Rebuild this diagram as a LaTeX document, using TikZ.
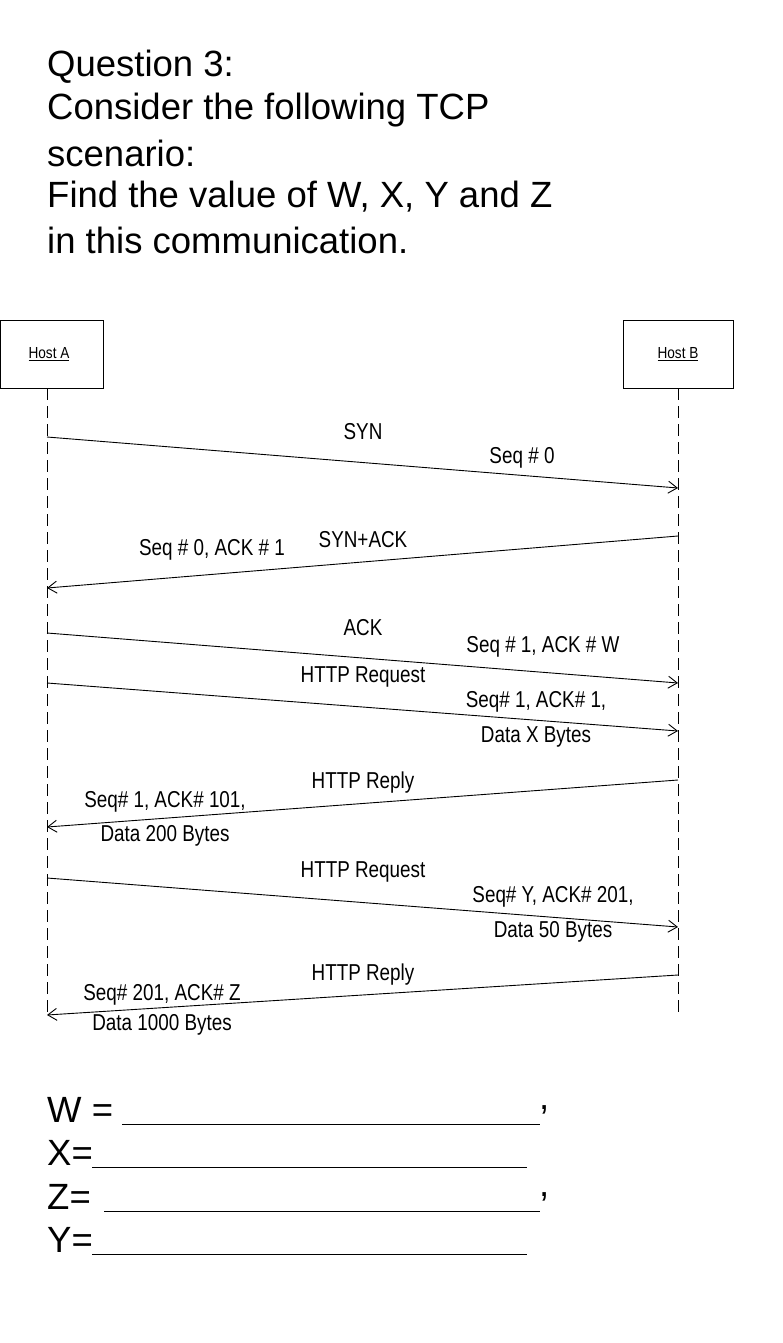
\documentclass[tikz,border=0pt]{standalone}
\usepackage{fontspec}
\setmainfont{Liberation Sans}
\usetikzlibrary{arrows.meta}
\begin{document}
\begin{tikzpicture}[x=1pt,y=-1pt,
  big/.style={anchor=west,inner sep=0,font=\fontsize{36.5}{40}\selectfont},
  lbl/.style={inner sep=0,font=\fontsize{23}{25}\selectfont,xscale=0.82},
  host/.style={draw,thick,minimum height=68pt,font=\fontsize{16}{18}\selectfont,xscale=0.9},
  msg/.style={line width=0.9pt,-{Straight Barb[length=9pt,width=12pt]}},
  life/.style={line width=0.8pt,dash pattern=on 12pt off 6pt},
  blank/.style={line width=1pt}]
\useasboundingbox (0,0) rectangle (782,1343);
\node[big] (t1) at (47,67) {Question 3:};
\node[big] (t2) at (47,110) {Consider the following TCP};
\node[big] (t3) at (47,153) {scenario:};
\node[big] (t4) at (47,197) {Find the value of W, X, Y and Z};
\node[big] (t5) at (47,240) {in this communication.};
\draw[thick] (0,320) rectangle (103,388);
\draw[thick] (623,320) rectangle (733,388);
\node[inner sep=0,font=\fontsize{16}{18}\selectfont,xscale=0.85] (A) at (49,354) {\underline{Host A}};
\node[inner sep=0,font=\fontsize{16}{18}\selectfont,xscale=0.85] (B) at (678,354) {\underline{Host B}};
\coordinate (As) at (47,388); \coordinate (Bs) at (678,388);
\coordinate (Aend) at (47,1015);
\coordinate (Bend) at (678,1015);
\draw[life] (As) -- (Aend);
\draw[life] (Bs) -- (Bend);
\coordinate (a1) at (47,437); \coordinate (b1) at (678,488);
\coordinate (b2) at (678,536); \coordinate (a2) at (47,588);
\coordinate (a3) at (47,633); \coordinate (b3) at (678,683);
\coordinate (a4) at (47,683); \coordinate (b4) at (678,731);
\coordinate (b5) at (678,780); \coordinate (a5) at (47,827);
\coordinate (a6) at (47,878); \coordinate (b6) at (678,927);
\coordinate (b7) at (678,975); \coordinate (a7) at (47,1015);
\draw[msg] (a1) -- (b1);
\draw[msg] (b2) -- (a2);
\draw[msg] (a3) -- (b3);
\draw[msg] (a4) -- (b4);
\draw[msg] (b5) -- (a5);
\draw[msg] (a6) -- (b6);
\draw[msg] (b7) -- (a7);
\node[lbl] (l1) at (363,432) {SYN};
\node[lbl] (l1b) at (522,458) {Seq \# 0};
\node[lbl] (l2) at (363,540) {SYN+ACK};
\node[lbl] (l2b) at (212,550) {Seq \# 0, ACK \# 1};
\node[lbl] (l3) at (363,628) {ACK};
\node[lbl] (l3b) at (543,647) {Seq \# 1, ACK \# W};
\node[lbl] (l4) at (363,677) {HTTP Request};
\node[lbl] (l4b) at (536,702) {Seq\# 1, ACK\# 1,};
\node[lbl] (l4c) at (536,737) {Data X Bytes};
\node[lbl] (l5) at (363,783) {HTTP Reply};
\node[lbl] (l5b) at (165,802) {Seq\# 1, ACK\# 101,};
\node[lbl] (l5c) at (165,836) {Data 200 Bytes};
\node[lbl] (l6) at (363,872) {HTTP Request};
\node[lbl] (l6b) at (553,897) {Seq\# Y, ACK\# 201,};
\node[lbl] (l6c) at (553,932) {Data 50 Bytes};
\node[lbl] (l7) at (363,975) {HTTP Reply};
\node[lbl] (l7b) at (162,995) {Seq\# 201, ACK\# Z};
\node[lbl] (l7c) at (162,1025) {Data 1000 Bytes};
\node[big] (w) at (47,1110) {W =};
\node[big] (x) at (47,1153) {X=};
\node[big] (z) at (47,1197) {Z=};
\node[big] (y) at (47,1240) {Y=};
\coordinate (w1) at (122,1124); \coordinate (w2) at (540,1124);
\coordinate (x1) at (92,1167); \coordinate (x2) at (527,1167);
\coordinate (z1) at (104,1211); \coordinate (z2) at (540,1211);
\coordinate (y1) at (92,1254); \coordinate (y2) at (527,1254);
\draw[blank] (w1) -- (w2); \draw[blank] (x1) -- (x2);
\draw[blank] (z1) -- (z2); \draw[blank] (y1) -- (y2);
\node[big] (wc) at (539,1110) {,};
\node[big] (zc) at (539,1197) {,};
\end{tikzpicture}
\end{document}
